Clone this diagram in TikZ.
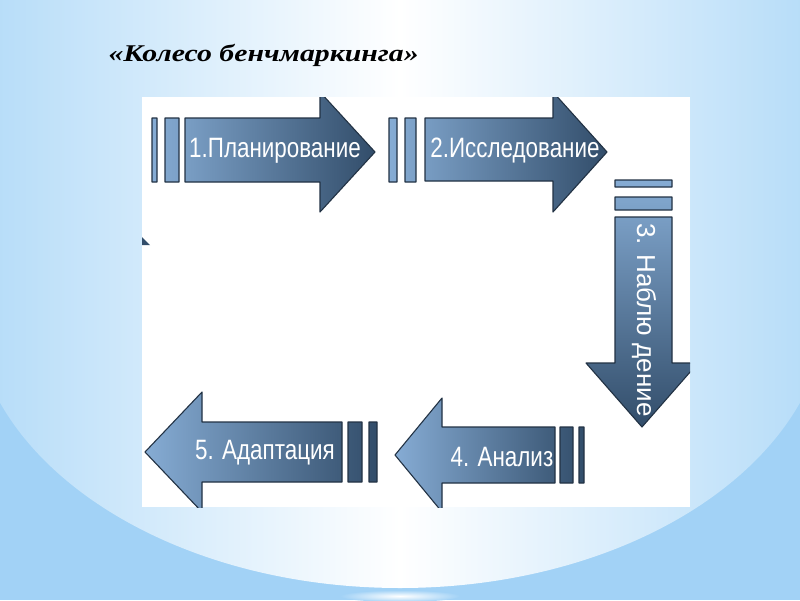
\documentclass[tikz,border=0pt]{standalone}
\usepackage{fontspec}
\newfontfamily\titlefont[FakeStretch=1.24]{Liberation Serif}
\newfontfamily\arrowfont[FakeStretch=0.8]{Liberation Sans}
\newfontfamily\arrowwide{Liberation Sans}
\definecolor{bgblue}{HTML}{A2D2F6}
\definecolor{bgmid}{HTML}{B3DBF8}
\definecolor{arrowlight}{HTML}{86ACD4}
\definecolor{arrowdark}{HTML}{324D6A}
\definecolor{arrowline}{HTML}{223244}
\tikzset{
	arrowgroup/.style={draw=arrowline, line width=1.1pt, line join=round},
	arrowtext/.style={text=white, inner sep=0pt, font=\arrowfont\fontsize{28}{28}\selectfont}
}
\begin{document}
\begin{tikzpicture}[x=1pt,y=-1pt]
\useasboundingbox (0,0) rectangle (800,600);
\clip (0,0) rectangle (800,600);
\fill[bgblue] (0,0) rectangle (800,600);
\shade[left color=bgmid, right color=bgmid, middle color=white]
	(-28,-10) -- (-28,300) arc[start angle=180, end angle=360, x radius=428, y radius=-288] -- (828,-10) -- cycle;
\shade[inner color=white, outer color=bgblue] (400,596) ellipse (60 and 6);

\node[font=\titlefont\bfseries\itshape\fontsize{24}{24}\selectfont, anchor=base west] (title) at (105,61) {«Колесо бенчмаркинга»};

\fill[white] (142,97) rectangle (690,507);
\begin{scope}
\clip (142,97) rectangle (690,507);
\shade[arrowgroup, left color=arrowlight, right color=arrowdark]
	(152,118) rectangle (157,182) (165,118) rectangle (179,182)
	(185,118) -- (320,118) -- (320,92) -- (375,152) -- (320,212) -- (320,182) -- (185,182) -- cycle;
\shade[arrowgroup, left color=arrowlight, right color=arrowdark]
	(389,118) rectangle (397,182) (405,118) rectangle (416,182)
	(425,118) -- (553,118) -- (553,92) -- (607,152) -- (553,212) -- (553,181) -- (425,181) -- cycle;
\shade[arrowgroup, top color=arrowlight, bottom color=arrowdark]
	(615,180) rectangle (672,187) (615,197) rectangle (672,210)
	(615,217) -- (615,363) -- (586,363) -- (642,427) -- (698,363) -- (672,363) -- (672,217) -- cycle;
\shade[arrowgroup, left color=arrowlight, right color=arrowdark]
	(560,427) rectangle (573,483) (579,427) rectangle (584,483)
	(555,427) -- (442,427) -- (442,398) -- (395,455) -- (442,512) -- (442,483) -- (555,483) -- cycle;
\shade[arrowgroup, left color=arrowlight, right color=arrowdark]
	(348,422) rectangle (362,482) (369,422) rectangle (377,482)
	(342,422) -- (202,422) -- (202,392) -- (145,452) -- (202,512) -- (202,482) -- (342,482) -- cycle;
\fill[arrowdark] (142,237) -- (150,245) -- (142,245) -- cycle;
\end{scope}

\node[arrowtext] (plan) at (275,151) {1.Планирование};
\node[arrowtext] (research) at (515,151) {2.Исследование};
\node[arrowtext, font=\arrowwide\fontsize{26}{26}\selectfont, rotate=-90] (observe) at (644,320) {3. Наблю дение};
\node[arrowtext] (analysis) at (502,457) {4. Анализ};
\node[arrowtext] (adapt) at (265,453) {5. Адаптация};
\end{tikzpicture}
\end{document}
